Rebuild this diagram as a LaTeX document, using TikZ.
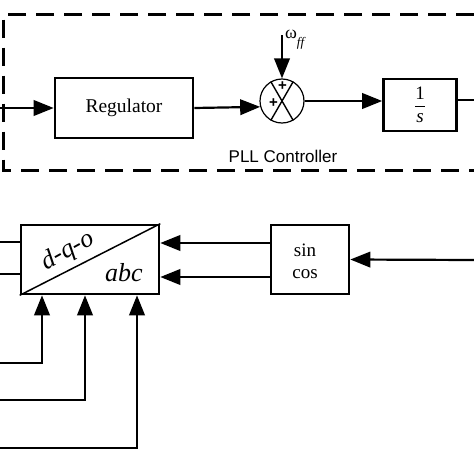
\documentclass[tikz,border=0pt]{standalone}
\usepackage{amsmath}
\usepackage{fontspec}
\setmainfont{Liberation Serif}
\setsansfont{Liberation Sans}
\usetikzlibrary{arrows.meta}
\begin{document}
\begin{tikzpicture}[x=1pt,y=-1pt,line width=2.2pt,
  every node/.style={inner sep=0pt},
  arr/.style={-{Triangle[length=20pt,width=15.5pt]}},
  blk/.style={draw,rectangle,line width=2.6pt}]
\useasboundingbox (0,0) rectangle (474,474);
% PLL controller
\draw [dashed,line width=3pt,dash pattern=on 18pt off 10pt] (474,14) -- (3.5,14) -- (3.5,170) -- (474,170);
\node [blk,minimum width=138pt,minimum height=60pt] (reg) at (124,108) {\fontsize{19.5}{22}\selectfont Regulator};
\node [circle,draw,line width=1.2pt,minimum size=44pt] (sum) at (282,101) {};
\draw [line width=1.4pt] (sum.60) -- (sum.240);
\draw [line width=1.4pt] (sum.120) -- (sum.300);
\node (plusA) at (282.5,86.5) {\sffamily\bfseries\fontsize{15}{15}\selectfont +};
\node (plusB) at (273.5,103.5) {\sffamily\bfseries\fontsize{15}{15}\selectfont +};
\node [blk,minimum width=73pt,minimum height=52pt] (integ) at (420,105) {\fontsize{19}{21}\selectfont $\dfrac{\text{1}}{\textit{s}}$};
\node [anchor=base west] (wlab) at (284,38) {\fontsize{18}{20}\selectfont ω\raisebox{-8pt}{\fontsize{13}{13}\selectfont\itshape ff}};
\node (pll) at (283,156) {\sffamily\fontsize{17}{20}\selectfont PLL Controller};
\coordinate (inL) at (0,108);
\coordinate (wtop) at (282,35);
\coordinate (outR) at (474,100);
\draw [arr] (inL) -- (reg.west);
\draw [arr] (reg.east) -- (sum.195);
\draw [arr] (wtop) -- (sum.north);
\draw [arr] (sum.east) -- (sum.east -| integ.west);
\draw (integ.east |- outR) -- (outR);
% transformation
\node [blk,minimum width=138pt,minimum height=69pt] (dqo) at (90,259.5) {};
\draw [line width=1.5pt] (dqo.south west) -- (dqo.north east);
\node [rotate=29] (dqotxt) at (68,251) {\fontsize{26}{26}\selectfont\itshape d-q-o};
\node (abctxt) at (124,273) {\fontsize{26}{26}\selectfont\itshape abc};
\node [blk,minimum width=78pt,minimum height=69pt] (sc) at (310,259.5) {};
\node [align=center,font=\fontsize{19}{22}\selectfont] (sctxt) at (305,261) {sin\\cos};
\coordinate (scIn) at (474,260);
\coordinate (dL1) at (0,242);
\coordinate (dL2) at (0,274);
\coordinate (b1) at (0,363);
\coordinate (b2) at (0,400);
\coordinate (b3) at (0,448);
\draw [arr] (scIn) -- (sc.east);
\draw [arr] ([yshift=16.5pt]sc.west) -- ([yshift=16.5pt]dqo.east);
\draw [arr] ([yshift=-17.5pt]sc.west) -- ([yshift=-17.5pt]dqo.east);
\draw (dqo.west |- dL1) -- (dL1);
\draw (dqo.west |- dL2) -- (dL2);
\draw [arr] (b1) -| ([xshift=-48pt]dqo.south);
\draw [arr] (b2) -| ([xshift=-5pt]dqo.south);
\draw [arr] (b3) -| ([xshift=47pt]dqo.south);
\end{tikzpicture}
\end{document}
